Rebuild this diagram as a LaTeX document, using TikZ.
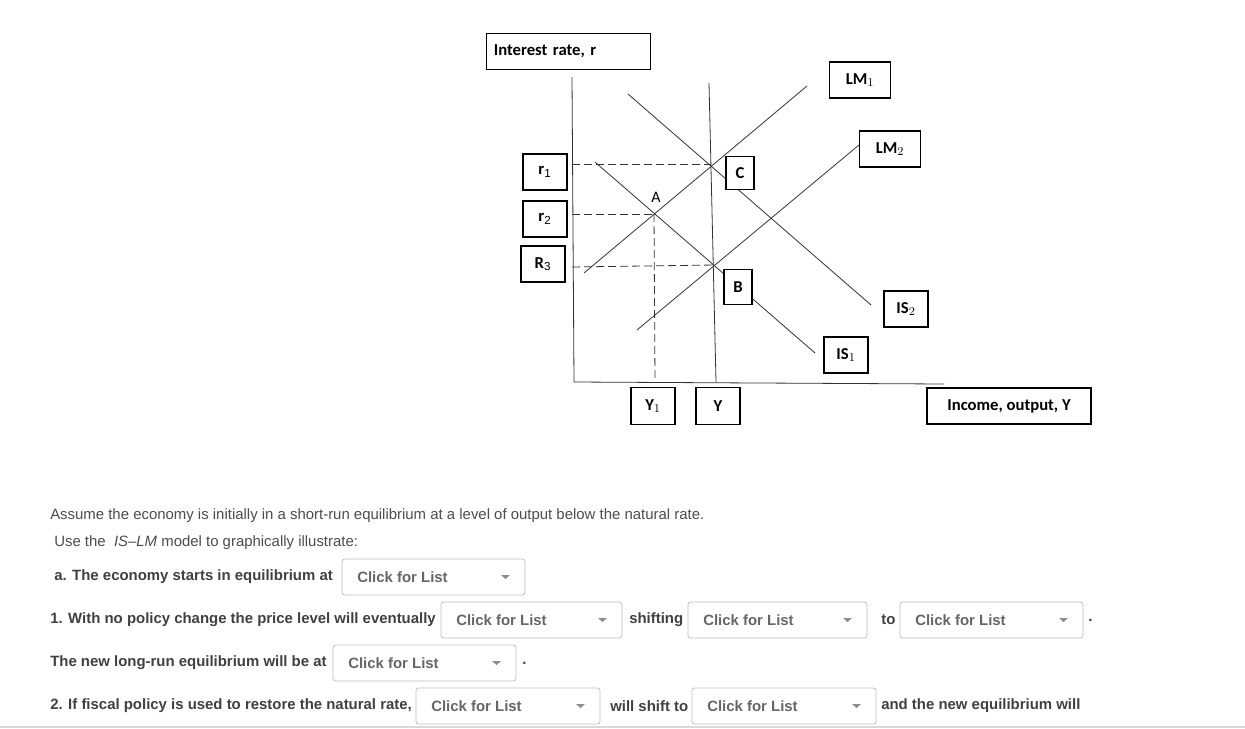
\documentclass[tikz,border=0pt]{standalone}
\usepackage{fontspec}
\setmainfont{Liberation Sans}
\newfontfamily\carlitofont{Carlito}
\begin{document}
\begin{tikzpicture}[x=0.75pt,y=-0.75pt,
  lbl/.style={draw,fill=white,line width=0.8pt,inner sep=0pt,font=\carlitofont\bfseries\fontsize{12.5}{14}\selectfont},
  crv/.style={line width=0.6pt,draw=black!80},
  dsh/.style={dashed,dash pattern=on 6pt off 3pt,line width=0.6pt,draw=black!80},
  txt/.style={anchor=west,inner sep=0pt,text=black!70,font=\fontsize{11.2}{13}\selectfont},
  btxt/.style={txt,text=black!75,font=\bfseries\fontsize{11.2}{13}\selectfont},
  dd/.style={draw=black!25,rounded corners=2pt,line width=0.6pt}]
\useasboundingbox (0,0) rectangle (1245,728);
% axes
\draw[crv] (572,77) -- (574,382) coordinate (o) -- (944,384);
\draw[crv] (709,83) -- (716,382);
% curves
\draw[crv] (584,273) -- (807,86);
\draw[crv] (637,330) -- (859,145);
\draw[crv] (628,94) -- (871,305);
\draw[crv] (595,162) -- (815,353);
% dashed
\draw[dsh] (572,164) -- (711,164);
\draw[dsh] (572,214) -- (654,214);
\draw[dsh] (572,267) -- (715,265);
\draw[dsh] (654,214) -- (655,382);
\node[font=\carlitofont\fontsize{12}{14}\selectfont] (A) at (656,197) {A};
% boxes
\node[lbl,anchor=north west,minimum width=123pt,minimum height=27pt,text width=112pt,align=left] (ir) at (486,33) {Interest rate, r};
\node[lbl,minimum width=33pt,minimum height=27pt] (r1) at (545,172) {r\textsubscript{\normalfont 1}};
\node[lbl,minimum width=33pt,minimum height=27pt] (r2) at (545,219) {r\textsubscript{\normalfont 2}};
\node[lbl,minimum width=33pt,minimum height=27pt] (r3) at (543,264) {R\textsubscript{\normalfont 3}};
\node[lbl,minimum width=21pt,minimum height=25pt] (C) at (740,173) {C};
\node[lbl,minimum width=21pt,minimum height=26pt] (B) at (738,287) {B};
\node[lbl,minimum width=46pt,minimum height=27pt] (lm1) at (860,80) {LM$_1$};
\node[lbl,minimum width=46pt,minimum height=27pt] (lm2) at (890,149) {LM$_2$};
\node[lbl,minimum width=33pt,minimum height=27pt] (is2) at (906,309) {IS$_2$};
\node[lbl,minimum width=33pt,minimum height=27pt] (is1) at (846,355) {IS$_1$};
\node[lbl,minimum width=33pt,minimum height=28pt] (y1) at (653,406) {Y$_1$};
\node[lbl,minimum width=33pt,minimum height=28pt] (y) at (718,406) {Y};
\node[lbl,minimum width=123pt,minimum height=27pt] (inc) at (1009,406) {Income, output, Y};
% text
\node[txt] (t1) at (50,516) {Assume the economy is initially in a short-run equilibrium at a level of output below the natural rate.};
\node[txt] (t2) at (54,543) {Use the \ \textit{IS--LM} model to graphically illustrate:};
\node[btxt] (t3) at (54,577) {a. The economy starts in equilibrium at};
\node[btxt] (t4) at (50,620) {1. With no policy change the price level will eventually};
\node[btxt] (t5) at (629,620) {shifting};
\node[btxt] (t6) at (881,620) {to};
\node[btxt] (t7) at (1088,620) {.};
\node[btxt] (t8) at (50,663) {The new long-run equilibrium will be at};
\node[btxt] (t9) at (522,663) {.};
\node[btxt] (t10) at (50,706) {2. If fiscal policy is used to restore the natural rate,};
\node[btxt] (t11) at (610,706) {will shift to};
\node[btxt] (t12) at (881,706) {and the new equilibrium will};
\foreach \x/\y/\w [count=\i] in {342/559/183,441/602/181,688/602/179,900/602/183,333/645/183,416/688/184,692/688/184}{
  \draw[dd] (\x,\y) rectangle ++(\w,36);
  \node[txt,text=black!60,font=\fontsize{11.2}{13}\selectfont\bfseries] (d\i) at (\x+15,\y+18) {Click for List};
  \fill[black!45] (\x+\w-24,\y+16) -- ++(9,0) -- ++(-4.5,4) -- cycle;
}
\draw[black!15,line width=1pt] (0,727) -- (1245,727);
\end{tikzpicture}
\end{document}
